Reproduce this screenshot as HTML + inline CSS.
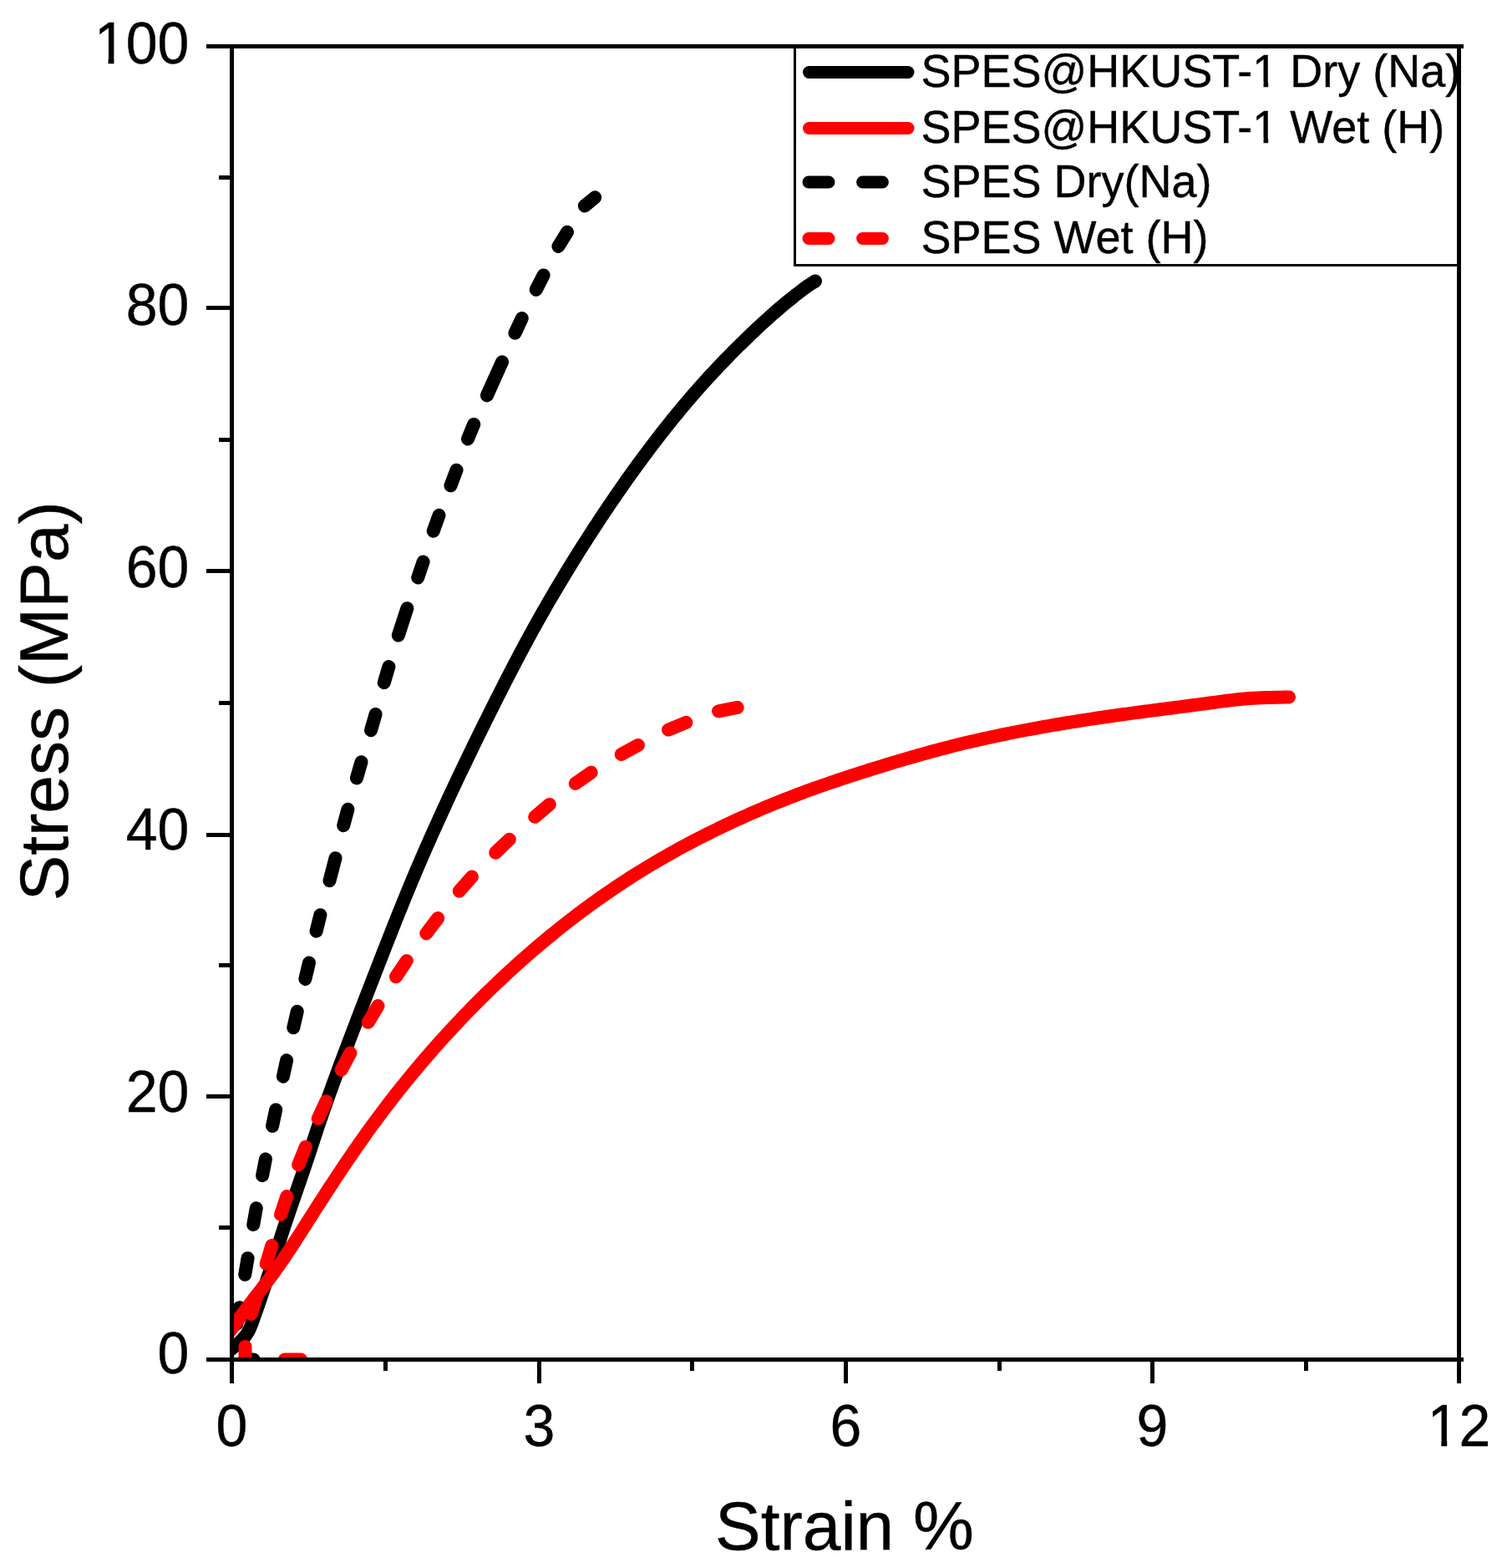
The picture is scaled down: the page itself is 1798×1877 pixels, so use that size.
<!DOCTYPE html>
<html><head><meta charset="utf-8"><style>
html,body{margin:0;padding:0;background:#fff;}
svg{display:block;}
text{font-family:"Liberation Sans",Arial,sans-serif;fill:#000;stroke:#000;stroke-width:0.4px;}
</style></head><body>
<svg width="1798" height="1877" viewBox="0 0 1798 1877">
<rect width="1798" height="1877" fill="#fff"/>
<defs><clipPath id="pc"><rect x="280" y="58" width="1464" height="1567"/></clipPath></defs>
<g clip-path="url(#pc)" fill="none" stroke-width="16" stroke-linejoin="round">
<path d="M268.00,1622.00 L271.74,1618.92 L275.65,1615.85 L279.63,1612.74 L283.56,1609.53 L287.35,1606.17 L290.89,1602.61 L294.07,1598.80 L296.79,1594.69 L299.04,1590.27 L300.95,1585.65 L302.67,1580.92 L304.35,1576.19 L306.01,1571.47 L307.67,1566.77 L309.32,1562.08 L310.95,1557.39 L312.57,1552.69 L314.18,1548.00 L315.78,1543.29 L317.37,1538.57 L318.94,1533.85 L320.51,1529.12 L322.07,1524.38 L323.62,1519.64 L325.16,1514.90 L326.71,1510.16 L328.25,1505.41 L329.78,1500.67 L331.32,1495.92 L332.86,1491.18 L334.40,1486.44 L335.95,1481.70 L337.50,1476.97 L339.05,1472.24 L340.61,1467.51 L342.19,1462.78 L343.77,1458.06 L345.36,1453.34 L346.97,1448.62 L348.59,1443.91 L350.22,1439.20 L351.86,1434.50 L353.50,1429.79 L355.14,1425.09 L356.78,1420.38 L358.42,1415.68 L360.05,1410.97 L361.67,1406.26 L363.28,1401.54 L364.87,1396.82 L366.45,1392.09 L368.01,1387.36 L369.57,1382.63 L371.12,1377.89 L372.67,1373.16 L374.22,1368.42 L375.77,1363.69 L377.33,1358.95 L378.89,1354.22 L380.47,1349.50 L382.06,1344.78 L383.66,1340.06 L385.28,1335.34 L386.91,1330.64 L388.55,1325.93 L390.20,1321.23 L391.86,1316.53 L393.53,1311.84 L395.22,1307.15 L396.91,1302.46 L398.61,1297.78 L400.32,1293.10 L402.04,1288.42 L403.76,1283.74 L405.49,1279.07 L407.23,1274.40 L408.97,1269.73 L410.72,1265.07 L412.47,1260.40 L414.23,1255.74 L415.99,1251.08 L417.76,1246.42 L419.52,1241.76 L421.30,1237.10 L423.07,1232.44 L424.84,1227.79 L426.62,1223.13 L428.40,1218.48 L430.19,1213.83 L431.97,1209.18 L433.76,1204.53 L435.55,1199.88 L437.35,1195.23 L439.14,1190.58 L440.94,1185.93 L442.74,1181.29 L444.54,1176.64 L446.34,1171.99 L448.15,1167.35 L449.95,1162.71 L451.76,1158.06 L453.57,1153.42 L455.38,1148.78 L457.19,1144.14 L459.00,1139.49 L460.82,1134.85 L462.63,1130.21 L464.45,1125.57 L466.28,1120.94 L468.10,1116.30 L469.94,1111.67 L471.77,1107.04 L473.61,1102.41 L475.46,1097.78 L477.31,1093.15 L479.17,1088.53 L481.04,1083.91 L482.91,1079.29 L484.79,1074.68 L486.67,1070.06 L488.57,1065.46 L490.47,1060.85 L492.38,1056.25 L494.31,1051.65 L496.24,1047.06 L498.18,1042.47 L500.13,1037.89 L502.09,1033.31 L504.06,1028.73 L506.04,1024.16 L508.03,1019.59 L510.02,1015.02 L512.03,1010.46 L514.04,1005.90 L516.07,1001.35 L518.10,996.80 L520.13,992.25 L522.18,987.71 L524.23,983.17 L526.30,978.63 L528.36,974.10 L530.44,969.57 L532.52,965.04 L534.61,960.51 L536.71,955.99 L538.81,951.48 L540.92,946.96 L543.04,942.45 L545.16,937.94 L547.28,933.44 L549.42,928.93 L551.56,924.43 L553.70,919.94 L555.85,915.44 L558.01,910.95 L560.17,906.46 L562.34,901.97 L564.51,897.49 L566.69,893.01 L568.87,888.53 L571.06,884.05 L573.25,879.58 L575.45,875.11 L577.65,870.64 L579.86,866.17 L582.07,861.70 L584.29,857.24 L586.51,852.78 L588.74,848.32 L590.97,843.87 L593.20,839.41 L595.44,834.96 L597.69,830.51 L599.94,826.07 L602.20,821.62 L604.46,817.18 L606.73,812.75 L609.01,808.32 L611.30,803.89 L613.59,799.47 L615.90,795.05 L618.21,790.63 L620.53,786.22 L622.86,781.82 L625.20,777.42 L627.55,773.03 L629.91,768.64 L632.28,764.26 L634.66,759.88 L637.06,755.51 L639.46,751.15 L641.88,746.79 L644.31,742.44 L646.76,738.10 L649.21,733.76 L651.68,729.43 L654.16,725.11 L656.65,720.80 L659.15,716.49 L661.67,712.18 L664.19,707.89 L666.73,703.60 L669.28,699.32 L671.84,695.04 L674.41,690.77 L676.99,686.51 L679.58,682.25 L682.19,678.00 L684.80,673.76 L687.42,669.52 L690.06,665.29 L692.70,661.07 L695.36,656.85 L698.02,652.64 L700.70,648.43 L703.38,644.23 L706.08,640.04 L708.78,635.86 L711.50,631.68 L714.23,627.51 L716.96,623.34 L719.71,619.19 L722.47,615.04 L725.24,610.89 L728.02,606.76 L730.81,602.63 L733.61,598.51 L736.43,594.40 L739.26,590.29 L742.09,586.20 L744.95,582.11 L747.81,578.03 L750.68,573.96 L753.57,569.90 L756.47,565.85 L759.39,561.80 L762.31,557.77 L765.25,553.74 L768.20,549.72 L771.17,545.72 L774.15,541.72 L777.14,537.73 L780.15,533.75 L783.17,529.79 L786.21,525.83 L789.26,521.89 L792.32,517.95 L795.40,514.03 L798.50,510.12 L801.61,506.23 L804.73,502.34 L807.88,498.47 L811.04,494.61 L814.21,490.77 L817.40,486.94 L820.61,483.13 L823.84,479.33 L827.08,475.54 L830.34,471.77 L833.61,468.02 L836.91,464.28 L840.22,460.55 L843.55,456.85 L846.90,453.16 L850.27,449.49 L853.66,445.83 L857.06,442.20 L860.49,438.58 L863.93,434.97 L867.39,431.38 L870.86,427.81 L874.35,424.26 L877.86,420.72 L881.38,417.19 L884.92,413.68 L888.48,410.19 L892.04,406.71 L895.63,403.24 L899.22,399.79 L902.83,396.35 L906.45,392.93 L910.10,389.52 L913.76,386.14 L917.43,382.78 L921.14,379.44 L924.86,376.14 L928.61,372.86 L932.39,369.61 L936.20,366.39 L940.03,363.21 L943.89,360.06 L947.77,356.94 L951.67,353.84 L955.60,350.77 L959.54,347.72 L963.52,344.71 L967.56,341.80 L971.71,339.05 L976.00,336.50" stroke="#000" stroke-linecap="round"/>
<path d="M712.19,236.33L699.81,246.47M678.96,277.89L668.44,294.91M650.65,329.43L641.75,346.77M624.75,381.08L616.45,398.72M601.02,433.23L582.98,473.37M567.22,507.92L559.98,525.48M546.54,562.65L539.46,581.35M525.49,616.89L518.71,635.71M506.61,672.53L500.19,691.47M487.35,728.23L476.85,760.57M465.42,798.11L459.78,817.29M449.57,854.99L444.03,874.21M432.48,912.20L426.92,931.40M416.38,968.84L411.22,988.16M401.51,1027.15L394.49,1054.25M383.42,1095.30L378.58,1114.70M370.02,1152.47L365.38,1171.93M355.73,1210.75L351.27,1230.25M343.11,1269.23L338.89,1288.77M330.17,1328.42L326.03,1347.98M317.92,1387.59L314.08,1407.21M306.75,1446.35L303.25,1466.05M296.56,1506.14L293.24,1525.86M286.65,1565.14L283.35,1584.86" stroke="#000" stroke-linecap="round"/>
<path d="M293,1627.4L303.5,1627.4" stroke="#000" stroke-linecap="round"/>
<path d="M262.00,1612.00 L265.02,1607.67 L268.07,1603.35 L271.13,1599.05 L274.20,1594.76 L277.30,1590.49 L280.41,1586.22 L283.54,1581.97 L286.68,1577.72 L289.83,1573.49 L293.00,1569.27 L296.18,1565.05 L299.38,1560.85 L302.58,1556.65 L305.80,1552.47 L309.02,1548.29 L312.25,1544.11 L315.48,1539.93 L318.68,1535.74 L321.86,1531.52 L325.00,1527.27 L328.10,1523.00 L331.17,1518.70 L334.20,1514.38 L337.21,1510.04 L340.18,1505.68 L343.13,1501.30 L346.06,1496.90 L348.97,1492.50 L351.85,1488.08 L354.73,1483.65 L357.59,1479.21 L360.43,1474.76 L363.28,1470.31 L366.11,1465.86 L368.94,1461.40 L371.78,1456.95 L374.61,1452.49 L377.45,1448.04 L380.30,1443.60 L383.15,1439.15 L386.01,1434.72 L388.88,1430.28 L391.75,1425.85 L394.64,1421.43 L397.53,1417.02 L400.43,1412.61 L403.34,1408.20 L406.26,1403.80 L409.19,1399.41 L412.14,1395.03 L415.09,1390.65 L418.05,1386.28 L421.03,1381.92 L424.02,1377.57 L427.03,1373.23 L430.05,1368.90 L433.08,1364.58 L436.13,1360.27 L439.20,1355.97 L442.28,1351.68 L445.38,1347.41 L448.50,1343.15 L451.64,1338.90 L454.79,1334.67 L457.96,1330.44 L461.15,1326.24 L464.36,1322.04 L467.59,1317.86 L470.83,1313.69 L474.09,1309.53 L477.37,1305.39 L480.66,1301.26 L483.97,1297.15 L487.30,1293.04 L490.64,1288.96 L494.01,1284.88 L497.39,1280.82 L500.78,1276.78 L504.20,1272.75 L507.63,1268.73 L511.07,1264.72 L514.53,1260.74 L518.01,1256.76 L521.51,1252.80 L525.02,1248.86 L528.55,1244.93 L532.09,1241.01 L535.66,1237.11 L539.23,1233.22 L542.83,1229.35 L546.44,1225.50 L550.06,1221.66 L553.70,1217.83 L557.36,1214.02 L561.04,1210.23 L564.73,1206.45 L568.44,1202.69 L572.16,1198.94 L575.90,1195.21 L579.66,1191.50 L583.43,1187.80 L587.22,1184.12 L591.02,1180.46 L594.84,1176.81 L598.68,1173.18 L602.53,1169.56 L606.40,1165.97 L610.29,1162.38 L614.19,1158.82 L618.11,1155.27 L622.04,1151.75 L625.99,1148.23 L629.96,1144.74 L633.94,1141.26 L637.94,1137.81 L641.95,1134.37 L645.98,1130.95 L650.03,1127.54 L654.09,1124.16 L658.17,1120.80 L662.26,1117.45 L666.38,1114.13 L670.50,1110.83 L674.65,1107.54 L678.80,1104.28 L682.98,1101.04 L687.17,1097.82 L691.38,1094.62 L695.60,1091.44 L699.84,1088.28 L704.10,1085.15 L708.37,1082.04 L712.66,1078.95 L716.96,1075.88 L721.28,1072.84 L725.61,1069.82 L729.97,1066.82 L734.33,1063.85 L738.72,1060.90 L743.12,1057.98 L747.53,1055.08 L751.96,1052.20 L756.41,1049.36 L760.87,1046.53 L765.35,1043.73 L769.85,1040.96 L774.36,1038.21 L778.88,1035.49 L783.42,1032.79 L787.98,1030.11 L792.54,1027.46 L797.13,1024.83 L801.72,1022.23 L806.33,1019.65 L810.96,1017.10 L815.59,1014.57 L820.24,1012.06 L824.90,1009.58 L829.58,1007.11 L834.26,1004.68 L838.96,1002.26 L843.67,999.87 L848.39,997.50 L853.13,995.15 L857.87,992.83 L862.62,990.53 L867.39,988.25 L872.16,985.99 L876.95,983.76 L881.75,981.54 L886.55,979.36 L891.37,977.19 L896.20,975.04 L901.03,972.92 L905.88,970.82 L910.74,968.74 L915.60,966.69 L920.48,964.66 L925.36,962.65 L930.25,960.66 L935.15,958.70 L940.06,956.75 L944.98,954.83 L949.91,952.93 L954.85,951.06 L959.79,949.20 L964.74,947.37 L969.70,945.56 L974.66,943.77 L979.64,941.99 L984.62,940.24 L989.60,938.50 L994.60,936.79 L999.59,935.08 L1004.60,933.40 L1009.61,931.73 L1014.62,930.07 L1019.64,928.43 L1024.67,926.80 L1029.69,925.19 L1034.73,923.59 L1039.76,922.00 L1044.80,920.42 L1049.85,918.85 L1054.89,917.29 L1059.94,915.74 L1065.00,914.20 L1070.05,912.68 L1075.11,911.17 L1080.18,909.67 L1085.24,908.18 L1090.31,906.71 L1095.39,905.25 L1100.47,903.80 L1105.55,902.38 L1110.64,900.97 L1115.73,899.57 L1120.83,898.19 L1125.93,896.83 L1131.04,895.49 L1136.15,894.17 L1141.26,892.87 L1146.39,891.59 L1151.51,890.33 L1156.64,889.09 L1161.78,887.87 L1166.92,886.68 L1172.07,885.50 L1177.22,884.34 L1182.38,883.20 L1187.54,882.08 L1192.70,880.98 L1197.87,879.89 L1203.04,878.83 L1208.21,877.78 L1213.39,876.75 L1218.58,875.73 L1223.76,874.73 L1228.95,873.74 L1234.14,872.77 L1239.34,871.82 L1244.53,870.88 L1249.73,869.95 L1254.93,869.03 L1260.14,868.13 L1265.34,867.24 L1270.55,866.37 L1275.76,865.50 L1280.97,864.65 L1286.18,863.81 L1291.40,862.98 L1296.61,862.17 L1301.83,861.36 L1307.05,860.57 L1312.27,859.78 L1317.49,859.01 L1322.72,858.24 L1327.94,857.49 L1333.17,856.74 L1338.40,856.00 L1343.62,855.28 L1348.85,854.56 L1354.08,853.85 L1359.32,853.14 L1364.55,852.45 L1369.78,851.75 L1375.02,851.07 L1380.25,850.39 L1385.48,849.71 L1390.72,849.03 L1395.96,848.36 L1401.19,847.69 L1406.43,847.01 L1411.66,846.34 L1416.90,845.66 L1422.14,844.99 L1427.37,844.30 L1432.61,843.62 L1437.84,842.93 L1443.08,842.23 L1448.31,841.53 L1453.55,840.82 L1458.78,840.11 L1464.02,839.41 L1469.26,838.73 L1474.50,838.09 L1479.74,837.49 L1484.99,836.95 L1490.25,836.48 L1495.51,836.08 L1500.78,835.76 L1506.05,835.49 L1511.33,835.27 L1516.61,835.10 L1521.89,834.95 L1527.17,834.83 L1532.45,834.72 L1537.73,834.61 L1543.00,834.50" stroke="#f00" stroke-linecap="round"/>
<path d="M882.69,846.91L860.11,851.29M821.33,864.82L800.07,873.58M763.87,891.94L743.73,903.06M707.64,924.73L688.76,937.87M657.80,962.99L640.20,977.81M609.81,1004.75L593.19,1020.65M564.91,1049.57L549.69,1066.83M524.14,1099.13L510.26,1117.47M486.79,1150.14L474.01,1169.26M452.51,1204.03L440.69,1223.77M419.40,1260.45L408.60,1280.75M390.45,1318.17L380.75,1339.03M365.78,1372.93L357.22,1394.27M343.34,1432.09L336.06,1453.91M325.30,1490.98L318.70,1513.02M307.30,1550.98L300.70,1573.02" stroke="#f00" stroke-linecap="round"/>
<path d="M293.5,1612L293.5,1628M341,1627.4L360,1627.4" stroke="#f00" stroke-linecap="round"/>
</g>
<!-- legend -->
<path d="M951.5,55V317.5H1746" fill="none" stroke="#000" stroke-width="3" shape-rendering="crispEdges"/>
<g fill="none" stroke-width="15" stroke-linecap="round">
<path d="M968.5,86.5H1087" stroke="#000"/>
<path d="M968.5,153.5H1087" stroke="#f00"/>
<path d="M968,218H992M1032.6,218H1056.4" stroke="#000"/>
<path d="M968,285.5H992M1032.6,285.5H1056.4" stroke="#f00"/>
</g>
<g font-size="54">
<text transform="translate(1102.5,104.2) scale(1,1.033)">SPES@HKUST-1 Dry (Na)</text>
<text transform="translate(1102.5,171.3) scale(1,1.033)">SPES@HKUST-1 Wet (H)</text>
<text transform="translate(1102.5,235.7) scale(1,1.033)">SPES Dry(Na)</text>
<text transform="translate(1102.5,302.9) scale(1,1.033)">SPES Wet (H)</text>
</g>
<!-- axes -->
<g stroke="#000" stroke-width="5" fill="none" shape-rendering="crispEdges">
<rect x="277.5" y="55.5" width="1469.0" height="1572.0"/>
<line x1="247" y1="1627.5" x2="278" y2="1627.5"/><line x1="247" y1="1312.5" x2="278" y2="1312.5"/><line x1="247" y1="999.5" x2="278" y2="999.5"/><line x1="247" y1="683.5" x2="278" y2="683.5"/><line x1="247" y1="368.5" x2="278" y2="368.5"/><line x1="247" y1="55.5" x2="278" y2="55.5"/><line x1="262" y1="1469.5" x2="278" y2="1469.5"/><line x1="262" y1="1155.5" x2="278" y2="1155.5"/><line x1="262" y1="841.5" x2="278" y2="841.5"/><line x1="262" y1="526.5" x2="278" y2="526.5"/><line x1="262" y1="212.5" x2="278" y2="212.5"/><line x1="277.5" y1="1627" x2="277.5" y2="1656"/><line x1="645.5" y1="1627" x2="645.5" y2="1656"/><line x1="1012.5" y1="1627" x2="1012.5" y2="1656"/><line x1="1379.5" y1="1627" x2="1379.5" y2="1656"/><line x1="1746.5" y1="1627" x2="1746.5" y2="1656"/><line x1="461.5" y1="1627" x2="461.5" y2="1641"/><line x1="828.5" y1="1627" x2="828.5" y2="1641"/><line x1="1196.5" y1="1627" x2="1196.5" y2="1641"/><line x1="1563.5" y1="1627" x2="1563.5" y2="1641"/><line x1="1744" y1="55.5" x2="1752" y2="55.5"/><line x1="1744" y1="1627.5" x2="1752" y2="1627.5"/>
</g>
<g font-size="68">
<text transform="translate(226.4,75.6) scale(1,1.04)" text-anchor="end">100</text><text transform="translate(226.4,389.0) scale(1,1.04)" text-anchor="end">80</text><text transform="translate(226.4,703.1) scale(1,1.04)" text-anchor="end">60</text><text transform="translate(226.4,1016.6) scale(1,1.04)" text-anchor="end">40</text><text transform="translate(226.4,1330.8) scale(1,1.04)" text-anchor="end">20</text><text transform="translate(226.4,1644.3) scale(1,1.04)" text-anchor="end">0</text>
<text transform="translate(277.5,1730.5) scale(1,1.04)" text-anchor="middle">0</text><text transform="translate(645.5,1730.5) scale(1,1.04)" text-anchor="middle">3</text><text transform="translate(1012.5,1730.5) scale(1,1.04)" text-anchor="middle">6</text><text transform="translate(1379.5,1730.5) scale(1,1.04)" text-anchor="middle">9</text><text transform="translate(1746.5,1730.5) scale(1,1.04)" text-anchor="middle">12</text>
</g>
<text font-size="82" x="856" y="1854.8">Strain %</text>
<text font-size="82" transform="translate(80.5,1078.5) rotate(-90)">Stress (MPa)</text>
<g fill="#fff"><rect x="1502.00" y="98.43" width="10.52" height="7.37"/><rect x="1518.19" y="98.43" width="10.09" height="7.37"/><rect x="1502.00" y="165.53" width="10.52" height="7.37"/><rect x="1518.19" y="165.53" width="10.09" height="7.37"/><rect x="116.61" y="68.72" width="12.97" height="8.48"/><rect x="136.49" y="68.72" width="12.44" height="8.48"/><rect x="1712.35" y="1723.62" width="12.97" height="8.48"/><rect x="1732.23" y="1723.62" width="12.44" height="8.48"/></g>
</svg>
</body></html>
